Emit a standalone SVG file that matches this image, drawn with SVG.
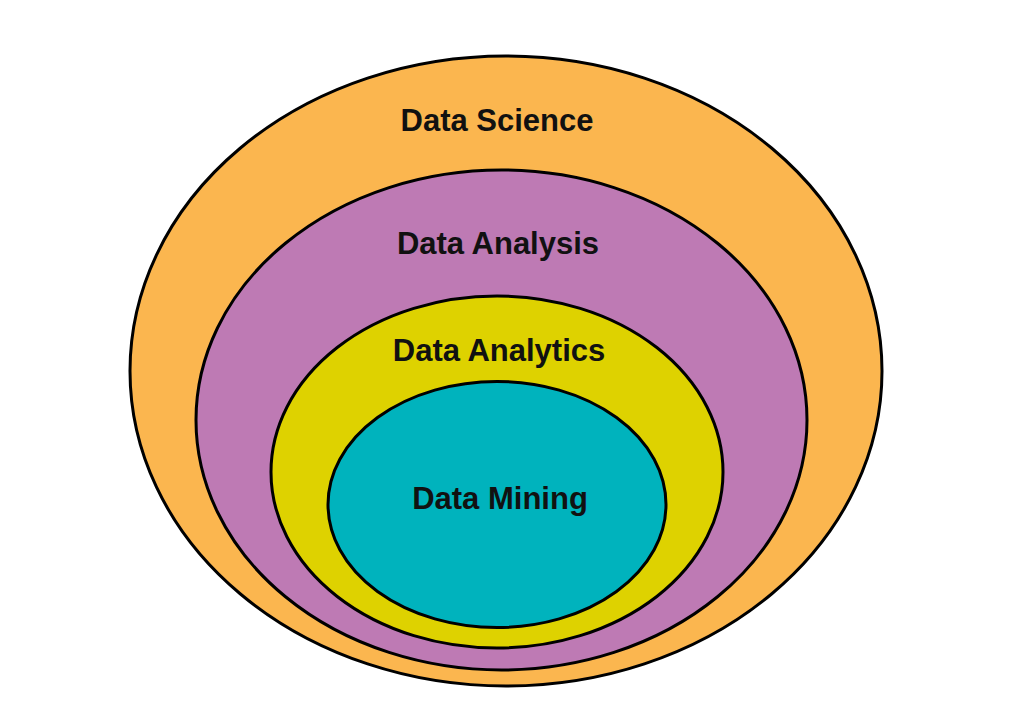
<svg xmlns="http://www.w3.org/2000/svg" width="1024" height="724" viewBox="0 0 1024 724">
<style>
.ring{stroke:#000;stroke-width:3}
.lbl{font-family:"Liberation Sans",Arial,sans-serif;font-weight:bold;font-size:31px;fill:#111;text-anchor:middle}
</style>
<rect width="1024" height="724" fill="#fff"/>
<g id="data-science">
<ellipse class="ring" cx="506" cy="371" rx="376" ry="315" fill="#FBB64F"/>
<text class="lbl" x="497" y="131">Data Science</text>
</g>
<g id="data-analysis">
<ellipse class="ring" cx="501.5" cy="420" rx="305.5" ry="250" fill="#BE7AB4"/>
<text class="lbl" x="498" y="254">Data Analysis</text>
</g>
<g id="data-analytics">
<ellipse class="ring" cx="497" cy="472" rx="226" ry="176" fill="#DED200"/>
<text class="lbl" x="499" y="361">Data Analytics</text>
</g>
<g id="data-mining">
<ellipse class="ring" cx="497" cy="504.5" rx="169" ry="123" fill="#00B3BD"/>
<text class="lbl" x="500" y="509">Data Mining</text>
</g>
<g id="connectors"/>
</svg>
